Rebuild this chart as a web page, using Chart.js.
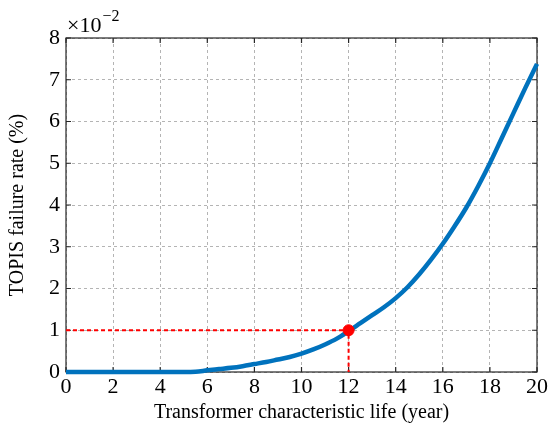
<!DOCTYPE html>
<html><head><meta charset="utf-8">
<script src="https://cdn.jsdelivr.net/npm/chart.js@4/dist/chart.umd.min.js"></script>
<style>html,body{margin:0;padding:0;background:#fff;} canvas{display:block;}</style>
</head><body>
<canvas id="c" width="550" height="433" style="width:550px;height:433px"></canvas>
<script>
// ---- data ----
const lifeYears   = [0,1,2,3,4,5,5.5,6,6.5,7,7.5,8,8.5,9,9.5,10,10.5,11,11.5,12,12.5,13,13.5,14,14.5,15,15.5,16,16.5,17,17.5,18,18.5,19,19.5,20];
const failureRate = [0,0,0,0,0,0,0.005,0.04,0.07,0.10,0.14,0.19,0.24,0.30,0.36,0.44,0.54,0.66,0.80,0.98,1.17,1.36,1.55,1.77,2.03,2.34,2.69,3.07,3.49,3.94,4.45,5.00,5.60,6.20,6.80,7.38];
const markX = [12];
const markY = [1];
const xTickValues = [0,2,4,6,8,10,12,14,16,18,20];
const yTickValues = [0,1,2,3,4,5,6,7,8];
const xTitle = 'Transformer characteristic life (year)';
const yTitle = 'TOPIS failure rate (%)';
const exponentBase = '×10';
const exponentPower = '−2';

const FONT = '"Liberation Serif", "Times New Roman", serif';

const curve = lifeYears.map((x,i)=>({x, y: failureRate[i]}));
const guide = [{x:0, y:markY[0]}, {x:markX[0], y:markY[0]}, {x:markX[0], y:0}];
const dot = markX.map((x,i)=>({x, y: markY[i]}));

const framePlugin = {
  id: 'frame',
  beforeDatasetsDraw(chart){
    const {ctx, chartArea:a, scales:{x, y}} = chart;
    ctx.save();
    ctx.strokeStyle = '#262626';
    ctx.lineWidth = 1.2;
    ctx.setLineDash([]);
    ctx.strokeRect(a.left, a.top, a.right - a.left, a.bottom - a.top);
    const L = 5;
    ctx.beginPath();
    x.ticks.forEach(t => {
      const p = x.getPixelForValue(t.value);
      ctx.moveTo(p, a.bottom); ctx.lineTo(p, a.bottom - L);
      ctx.moveTo(p, a.top); ctx.lineTo(p, a.top + L);
    });
    y.ticks.forEach(t => {
      const p = y.getPixelForValue(t.value);
      ctx.moveTo(a.left, p); ctx.lineTo(a.left + L, p);
      ctx.moveTo(a.right, p); ctx.lineTo(a.right - L, p);
    });
    ctx.stroke();
    ctx.restore();
  },
  afterDraw(chart){
    const {ctx, chartArea:a} = chart;
    ctx.save();
    ctx.fillStyle = '#000';
    ctx.textBaseline = 'alphabetic';
    ctx.textAlign = 'left';
    ctx.font = '22px ' + FONT;
    ctx.fillText(exponentBase, a.left + 1, a.top - 6);
    const w = ctx.measureText(exponentBase).width;
    ctx.font = '16px ' + FONT;
    ctx.fillText(exponentPower, a.left + 1 + w + 1, a.top - 17);
    ctx.restore();
  }
};

new Chart(document.getElementById('c'), {
  type: 'scatter',
  data: {
    datasets: [
      { data: dot, pointRadius: 5.5, pointHoverRadius: 5.5, backgroundColor: '#ff0000', borderColor: '#ff0000', showLine: false, order: 0 },
      { data: curve, showLine: true, borderColor: '#0072BD', borderWidth: 4.5, pointRadius: 0, cubicInterpolationMode: 'monotone', clip: 6, order: 1 },
      { data: guide, showLine: true, borderColor: '#ff0000', borderWidth: 2, borderDash: [4,3], pointRadius: 0, order: 2 }
    ]
  },
  options: {
    responsive: false,
    animation: false,
    devicePixelRatio: 1,
    layout: { padding: { top: 38, right: 13, left: 0, bottom: 0 } },
    plugins: { legend: { display: false }, tooltip: { enabled: false } },
    scales: {
      x: {
        type: 'linear', min: 0, max: 20,
        afterBuildTicks(s){ s.ticks = xTickValues.map(v => ({value: v})); },
        afterFit(s){ s.height = 61; },
        grid: { color: '#b4b4b4', lineWidth: 1, drawTicks: false },
        border: { display: false, dash: [3,3] },
        ticks: { color: '#000', font: { family: FONT, size: 22 }, padding: 2, maxRotation: 0, autoSkip: false },
        title: { display: true, text: xTitle, color: '#000', font: { family: FONT, size: 20 }, padding: { top: 0, bottom: 8 } }
      },
      y: {
        type: 'linear', min: 0, max: 8,
        afterBuildTicks(s){ s.ticks = yTickValues.map(v => ({value: v})); },
        afterFit(s){ s.width = 66; },
        grid: { color: '#b4b4b4', lineWidth: 1, drawTicks: false },
        border: { display: false, dash: [3,3] },
        ticks: { color: '#000', font: { family: FONT, size: 22 }, padding: 6, autoSkip: false },
        title: { display: true, text: yTitle, color: '#000', font: { family: FONT, size: 20 }, padding: { top: 6, bottom: 0 } }
      }
    }
  },
  plugins: [framePlugin]
});
</script>
</body></html>
